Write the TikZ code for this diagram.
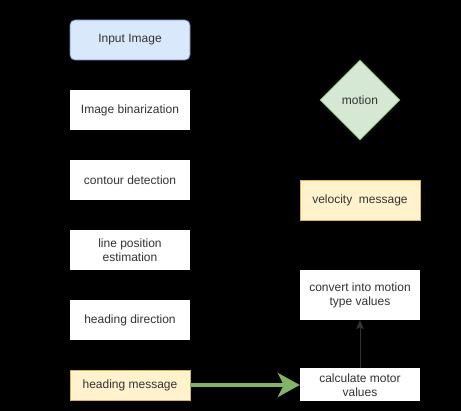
\documentclass[tikz,border=0pt]{standalone}
\usepackage{fontspec}
\setmainfont{Liberation Sans}
\usetikzlibrary{arrows.meta,shapes.geometric}
\definecolor{InputClr}{HTML}{DAE8FC}
\definecolor{InputLineClr}{HTML}{6C8EBF}
\definecolor{MsgClr}{HTML}{FFF2CC}
\definecolor{MsgLineClr}{HTML}{D6B656}
\definecolor{MotionClr}{HTML}{D5E8D4}
\definecolor{MotionLineClr}{HTML}{82B366}
\definecolor{TextClr}{HTML}{333333}

\begin{document}
\begin{tikzpicture}[x=1pt,y=-1pt,
  every node/.style={font=\fontsize{12}{14}\selectfont,text=TextClr,align=center,inner sep=0pt},
  stepbox/.style={fill=white,minimum width=120pt,minimum height=40pt},
  msgbox/.style={fill=MsgClr,draw=MsgLineClr,line width=.75pt,minimum width=120pt,minimum height=40pt}]

\fill[black] (0,0) rectangle (461,411);

\node[fill=InputClr,draw=InputLineClr,line width=.75pt,rounded corners=5pt,minimum width=120pt,minimum height=40pt] (input) at (130,40) {Input Image};
\node[stepbox] (binar) at (130,110) {Image binarization};
\node[stepbox] (contour) at (130,180) {contour detection};
\node[stepbox] (linepos) at (130,250) {line position\\estimation};
\node[stepbox] (heading) at (130,320) {heading direction};
\node[msgbox,minimum height=30pt] (headmsg) at (130,385) {heading message};

\node[diamond,aspect=1,fill=MotionClr,draw=MotionLineClr,line width=.75pt,minimum width=80pt,minimum height=80pt] (motion) at (360,100) {motion};
\node[msgbox] (velmsg) at (360,200) {velocity~~message};
\node[stepbox,minimum height=50pt] (convert) at (360,295) {convert into motion\\type values};
\node[stepbox,minimum height=33pt] (calc) at (360,385) {calculate motor\\values};

\draw[MotionLineClr,line width=4pt,-{Stealth[length=22pt,width=24pt,inset=6pt]}] (headmsg) -- (calc);
\draw[TextClr,line width=.75pt,-{Stealth[length=9pt,width=8pt,inset=2pt]}] (calc) -- (convert);

\end{tikzpicture}
\end{document}
